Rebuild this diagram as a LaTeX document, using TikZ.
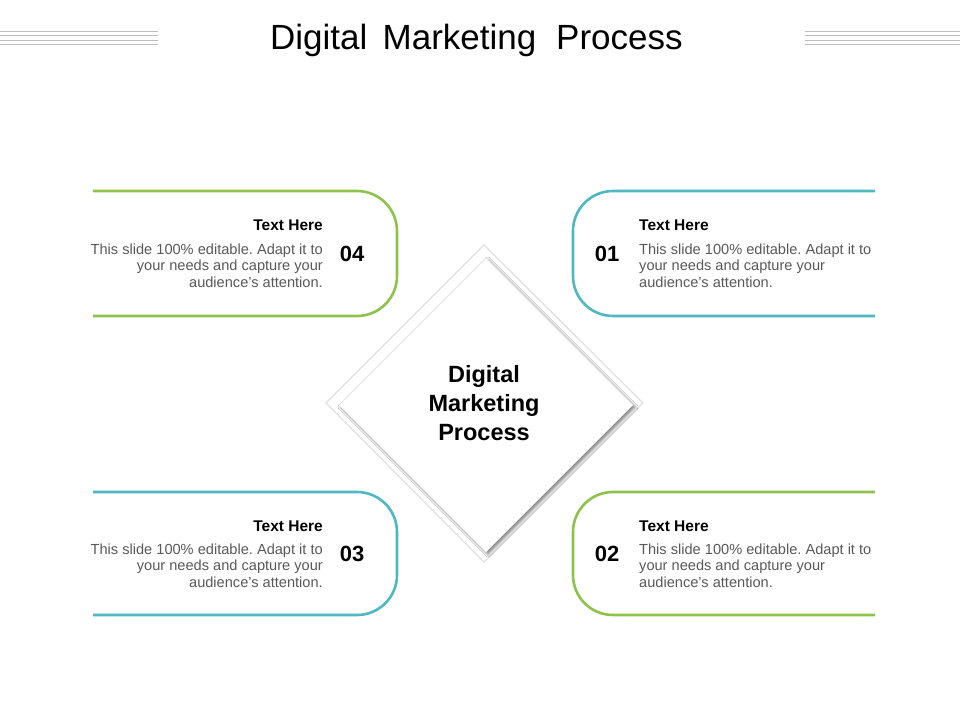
\documentclass[tikz,border=0pt]{standalone}
\usepackage{fontspec}
\setmainfont{Liberation Sans}
\usetikzlibrary{shadows.blur}
\definecolor{tealc}{HTML}{4FB8C2}
\definecolor{greenc}{HTML}{8DC34A}
\definecolor{bodyc}{HTML}{595959}
\definecolor{deco}{HTML}{BDBDBD}
\frenchspacing
\tikzset{
  frame/.style={line width=2.6pt, rounded corners=40pt},
  head/.style={font=\fontsize{15.5}{18}\selectfont\bfseries, inner sep=0pt, text=black},
  bodyl/.style={font=\fontsize{14.6}{17}\selectfont, inner sep=0pt, text=bodyc},
  num/.style={font=\fontsize{22}{26}\selectfont\bfseries, inner sep=0pt, text=black},
  cen/.style={font=\fontsize{23.5}{28}\selectfont\bfseries, inner sep=0pt, text=black},
  ttl/.style={font=\fontsize{35}{40}\selectfont, inner sep=0pt, text=black, anchor=base west},
  decoline/.style={draw=deco, line width=0.9pt}
}
\begin{document}
\begin{tikzpicture}[x=1pt,y=-1pt]
\useasboundingbox[fill=white] (0,0) rectangle (960,720);
% header lines
\foreach \yy in {31,35,40,44}{
  \draw[decoline] (0,\yy) -- (158,\yy);
  \draw[decoline] (805,\yy) -- (960,\yy);
}
\node[ttl] (t1) at (270,49.5) {Digital};
\node[ttl] (t2) at (382.5,49.5) {Marketing};
\node[ttl] (t3) at (556,49.5) {Process};

% diamond
\coordinate (dc) at (484,403);
\draw[draw=black!12, line width=1.2pt] (484,245) -- (643,403) -- (484,562) -- (326,403) -- cycle;
\fill[white, blur shadow={shadow xshift=2pt, shadow yshift=-2pt, shadow blur steps=8, shadow blur radius=3pt, shadow opacity=55}] (486,258) -- (633,405) -- (486,552) -- (339,405) -- cycle;
\draw[draw=black!10, line width=0.8pt] (339,405) -- (486,258) -- (633,405);
\node[cen, anchor=base] (c1) at (484,382.7) {Digital};
\node[cen, anchor=base] (c2) at (484,411.7) {Marketing};
\node[cen, anchor=base] (c3) at (484,440.7) {Process};

% box 01 (top right, teal)
\draw[frame, draw=tealc] (875,191) -- (573,191) -- (573,316) -- (875,316);
\node[num, anchor=base] (n1) at (607,261) {01};
\node[head, anchor=base west] (h1) at (639,230) {Text Here};
\node[bodyl, anchor=base west] (b1a) at (639,254) {This slide 100\% editable. Adapt it to};
\node[bodyl, anchor=base west] (b1b) at (639,270.7) {your needs and capture your};
\node[bodyl, anchor=base west] (b1c) at (639,287.3) {audience’s attention.};

% box 02 (bottom right, green)
\draw[frame, draw=greenc] (875,492) -- (573,492) -- (573,615) -- (875,615);
\node[num, anchor=base] (n2) at (607,561) {02};
\node[head, anchor=base west] (h2) at (639,531) {Text Here};
\node[bodyl, anchor=base west] (b2a) at (639,554) {This slide 100\% editable. Adapt it to};
\node[bodyl, anchor=base west] (b2b) at (639,570.7) {your needs and capture your};
\node[bodyl, anchor=base west] (b2c) at (639,587.3) {audience’s attention.};

% box 04 (top left, green)
\draw[frame, draw=greenc] (93,191) -- (397,191) -- (397,316) -- (93,316);
\node[num, anchor=base] (n4) at (352,261) {04};
\node[head, anchor=base east] (h4) at (323,230) {Text Here};
\node[bodyl, anchor=base east] (b4a) at (323,254) {This slide 100\% editable. Adapt it to};
\node[bodyl, anchor=base east] (b4b) at (323,270.7) {your needs and capture your};
\node[bodyl, anchor=base east] (b4c) at (323,287.3) {audience’s attention.};

% box 03 (bottom left, teal)
\draw[frame, draw=tealc] (93,492) -- (397,492) -- (397,615) -- (93,615);
\node[num, anchor=base] (n3) at (352,561) {03};
\node[head, anchor=base east] (h3) at (323,531) {Text Here};
\node[bodyl, anchor=base east] (b3a) at (323,554) {This slide 100\% editable. Adapt it to};
\node[bodyl, anchor=base east] (b3b) at (323,570.7) {your needs and capture your};
\node[bodyl, anchor=base east] (b3c) at (323,587.3) {audience’s attention.};
\end{tikzpicture}
\end{document}
